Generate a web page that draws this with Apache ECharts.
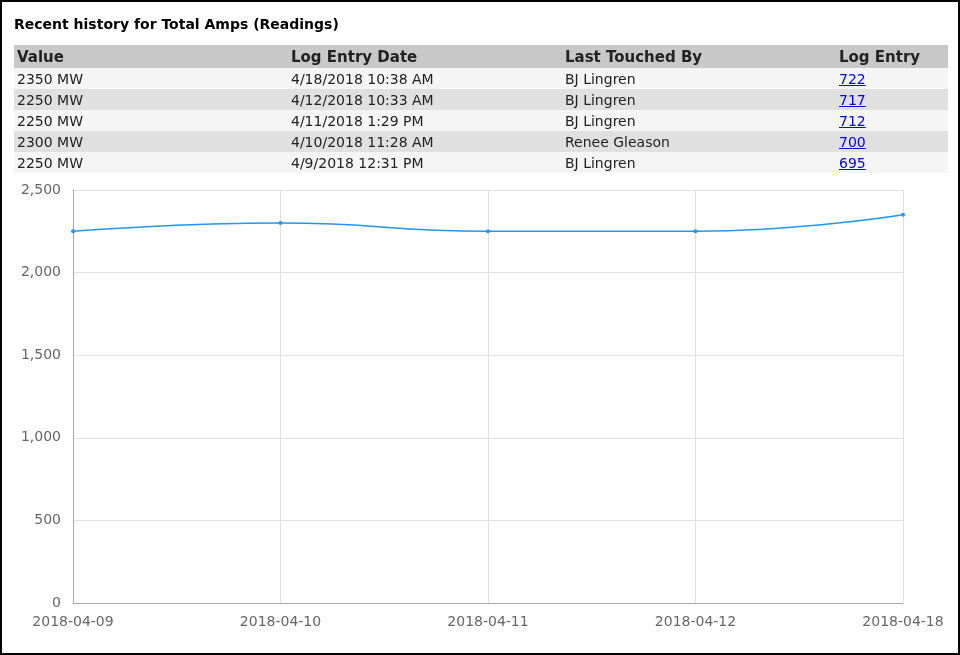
<!DOCTYPE html>
<html><head><meta charset="utf-8">
<script src="https://cdn.jsdelivr.net/npm/echarts@6/dist/echarts.min.js"></script>
<style>
html,body{margin:0;padding:0;background:#fff;}
#frame{position:absolute;left:0;top:0;width:956px;height:651px;border:2px solid #000;font-family:"DejaVu Sans",Verdana,sans-serif;}
#title{position:absolute;left:12px;top:14px;font-size:14px;font-weight:bold;color:#000;}
table{position:absolute;left:12px;top:43px;width:934px;border-collapse:collapse;font-size:14px;color:#222;}
th{background:#c8c8c8;text-align:left;font-weight:bold;font-size:15px;height:23px;padding:0 3px;}
td{height:21px;padding:0 3px;}
tr.a td{background:#f5f5f5;} tr.b td{background:#e0e0e0;}
a{color:#00e;}
#chart{position:absolute;left:0;top:0;width:956px;height:651px;}
</style></head><body>
<div id="frame">
<div id="chart"></div>
<div id="title">Recent history for Total Amps (Readings)</div>
<table id="tbl"></table>
</div>
<script>
const headers=["Value","Log Entry Date","Last Touched By","Log Entry"];
const rowValues=["2350 MW","2250 MW","2250 MW","2300 MW","2250 MW"];
const rowDates=["4/18/2018 10:38 AM","4/12/2018 10:33 AM","4/11/2018 1:29 PM","4/10/2018 11:28 AM","4/9/2018 12:31 PM"];
const rowUsers=["BJ Lingren","BJ Lingren","BJ Lingren","Renee Gleason","BJ Lingren"];
const rowEntries=["722","717","712","700","695"];
const categories=["2018-04-09","2018-04-10","2018-04-11","2018-04-12","2018-04-18"];
const values=[2250,2300,2250,2250,2350];

let h='<tr>'+headers.map((x,i)=>'<th style="width:'+(i<3?'268px':'auto')+'">'+x+'</th>').join('')+'</tr>';
rowValues.forEach((v,i)=>{h+='<tr class="'+(i%2?'b':'a')+'"><td>'+v+'</td><td>'+rowDates[i]+'</td><td>'+rowUsers[i]+'</td><td><a href="#">'+rowEntries[i]+'</a></td></tr>';});
document.getElementById('tbl').innerHTML=h;

const c=echarts.init(document.getElementById('chart'));
c.setOption({
 animation:false,
 grid:{left:71,right:55,top:188,bottom:50},
 xAxis:{type:'category',data:categories,boundaryGap:false,
  axisLine:{lineStyle:{color:'#aaa'}},axisTick:{show:false},
  axisLabel:{color:'#666',fontSize:14,margin:12,fontFamily:'"DejaVu Sans",sans-serif'},
  splitLine:{show:true,lineStyle:{color:'#e0e0e0'}}},
 yAxis:{type:'value',min:0,max:2500,interval:500,
  axisLine:{show:true,lineStyle:{color:'#aaa'}},axisTick:{show:false},
  axisLabel:{color:'#666',fontSize:14,margin:12,fontFamily:'"DejaVu Sans",sans-serif'},
  splitLine:{lineStyle:{color:'#e0e0e0'}}},
 series:[{type:'line',data:values,smooth:true,symbol:'circle',symbolSize:4,
  itemStyle:{color:'#2196f3'},lineStyle:{color:'#2196f3',width:1.5}}]
});
</script>
</body></html>
